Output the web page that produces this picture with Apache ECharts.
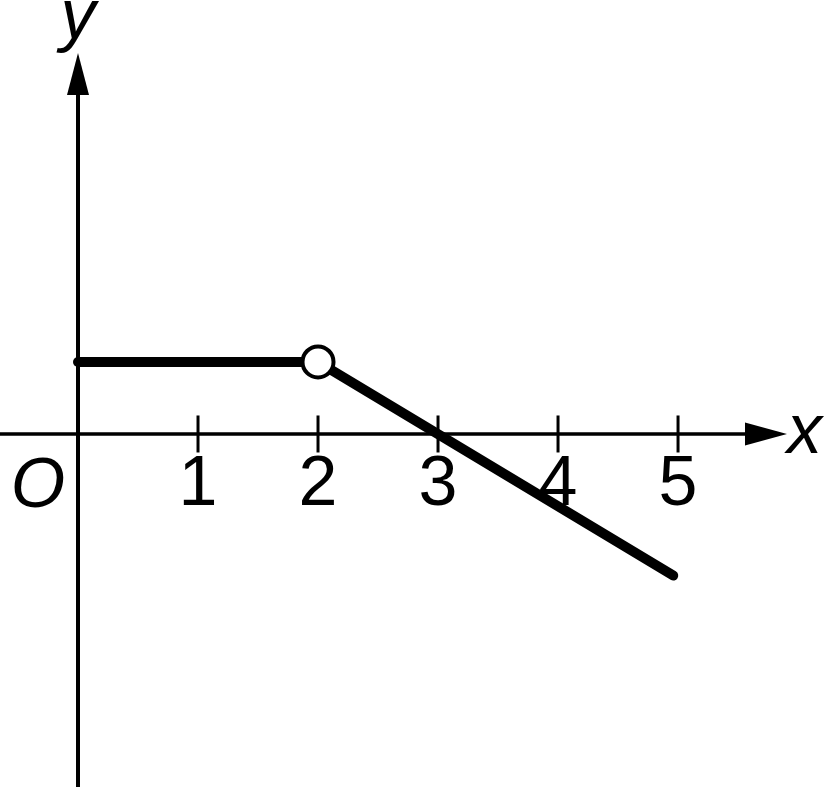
<!DOCTYPE html>
<html>
<head>
<meta charset="utf-8">
<script src="https://cdn.jsdelivr.net/npm/echarts@6/dist/echarts.min.js"></script>
<style>
  html, body { margin: 0; padding: 0; background: #fff; }
  #chart { width: 827px; height: 787px; }
</style>
</head>
<body>
<div id="chart"></div>
<script>
// piecewise function: flat part, then falling part (open circle at x = 2)
const flatPart = [[0, 0.6], [2, 0.6]]
const fallingPart = [[2, 0.6], [4.96, -1.18]]
const openPoint = [[2, 0.6]]
const tickValues = [1, 2, 3, 4, 5]
const tickLabels = ['1', '2', '3', '4', '5']

const FONT = 'Liberation Sans, Arial, Helvetica, sans-serif'

const chart = echarts.init(document.getElementById('chart'), null, { renderer: 'canvas' })

chart.setOption({
  animation: false,
  backgroundColor: '#fff',
  grid: { left: 0, right: 61, top: 74, bottom: 0, containLabel: false, outerBoundsMode: 'none' },
  xAxis: {
    type: 'value',
    min: -0.65,
    max: 5.733,
    name: 'x',
    nameLocation: 'end',
    nameGap: 21,
    nameTextStyle: {
      color: '#000', fontSize: 70, fontStyle: 'italic', fontFamily: FONT,
      padding: [0, 0, 16, 0]
    },
    axisLine: {
      onZero: true,
      symbol: ['none', 'triangle'],
      symbolSize: [23, 42],
      lineStyle: { color: '#000', width: 3.5 }
    },
    axisTick: { show: false },
    axisLabel: { show: false },
    splitLine: { show: false }
  },
  yAxis: {
    type: 'value',
    min: -2.942,
    max: 3.0,
    name: 'y',
    nameLocation: 'end',
    nameGap: 20,
    nameTextStyle: {
      color: '#000', fontSize: 70, fontStyle: 'italic', fontFamily: FONT
    },
    axisLine: {
      onZero: true,
      symbol: ['none', 'triangle'],
      symbolSize: [22, 42],
      lineStyle: { color: '#000', width: 4 }
    },
    axisTick: { show: false },
    axisLabel: { show: false },
    splitLine: { show: false }
  },
  series: [
    {
      // tick marks across the x axis, with their numbers underneath
      type: 'scatter',
      data: tickValues.map((v, i) => ({ value: [v, 0], name: tickLabels[i] })),
      symbol: 'rect',
      symbolSize: [3, 37],
      itemStyle: { color: '#000', opacity: 1 },
      label: {
        show: true,
        position: 'bottom',
        distance: -2,
        formatter: p => p.name,
        color: '#000',
        opacity: 1,
        fontSize: 70,
        fontFamily: FONT
      },
      silent: true,
      z: 3
    },
    {
      type: 'line',
      data: flatPart,
      showSymbol: false,
      symbol: 'none',
      clip: false,
      lineStyle: { color: '#000', width: 10, cap: 'round' },
      z: 4
    },
    {
      type: 'line',
      data: fallingPart,
      showSymbol: false,
      symbol: 'none',
      clip: false,
      lineStyle: { color: '#000', width: 10, cap: 'round' },
      z: 4
    },
    {
      type: 'scatter',
      data: openPoint,
      symbol: 'circle',
      symbolSize: 31,
      itemStyle: { color: '#fff', borderColor: '#000', borderWidth: 4, opacity: 1 },
      z: 6
    }
  ]
})

// origin label, placed relative to where the axes cross
const o = chart.convertToPixel({ gridIndex: 0 }, [0, 0])
chart.setOption({
  graphic: [{
    type: 'text',
    x: o[0] - 40,
    y: o[1] + 54,
    style: {
      text: 'O',
      fill: '#000',
      font: 'italic 70px ' + FONT,
      align: 'center',
      verticalAlign: 'middle'
    }
  }]
})
</script>
</body>
</html>
